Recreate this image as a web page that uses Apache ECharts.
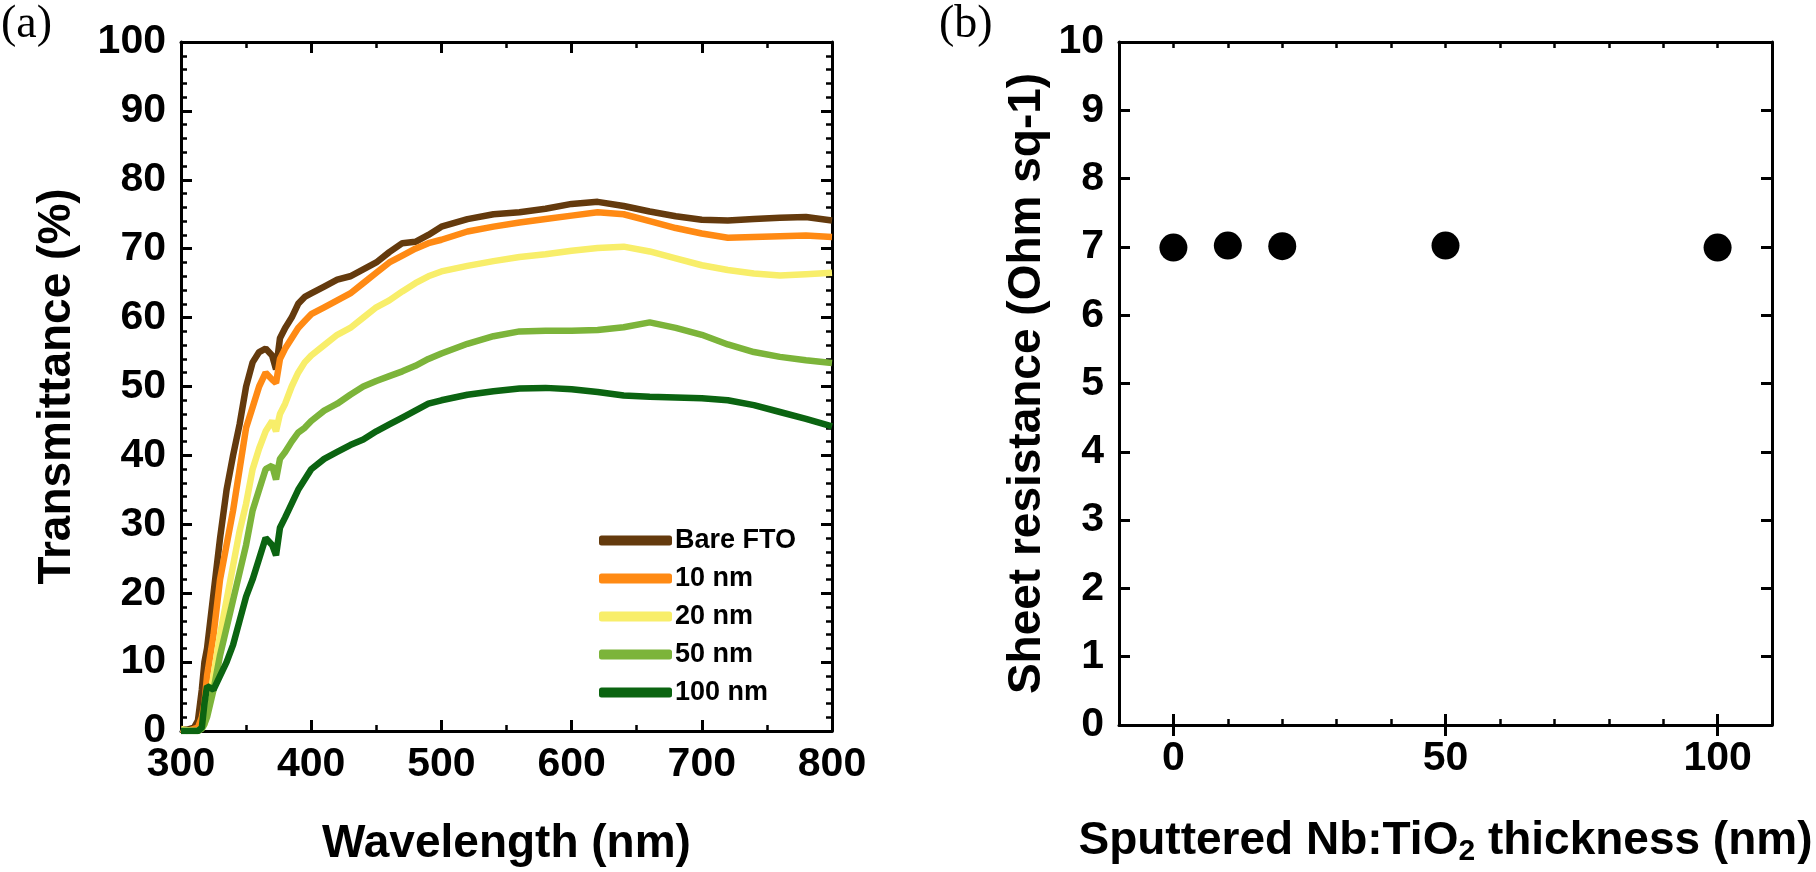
<!DOCTYPE html>
<html>
<head>
<meta charset="utf-8">
<title>FTO transmittance / sheet resistance</title>
<script src="https://cdn.jsdelivr.net/npm/echarts@6/dist/echarts.min.js"></script>
<style>
  html, body { margin: 0; padding: 0; background: #fff; }
  #main { width: 1816px; height: 872px; }
</style>
</head>
<body>
<div id="main"></div>
<script>
// (a) transmittance spectra
var wavelength = [300, 305, 310, 313, 316, 318, 320, 325, 330, 335, 340, 345, 350, 355, 360, 365, 370, 373, 376, 380,
  385, 390, 395, 400, 410, 420, 430, 440, 450, 460, 470, 480, 490, 500, 520, 540, 560, 580, 600, 620,
  640, 660, 680, 700, 720, 740, 760, 780, 800];
var bareFTO = [0.3, 0.2, 0.5, 1.5, 6, 10, 12, 20, 28, 35, 40, 44.5, 50, 53.5, 55, 55.5, 54.5, 52.5, 57, 58.5,
  60, 62, 63, 63.5, 64.5, 65.5, 66, 67, 68, 69.5, 70.8, 71, 72, 73.2, 74.3, 75, 75.3, 75.8, 76.5, 76.8,
  76.2, 75.4, 74.7, 74.2, 74.1, 74.3, 74.5, 74.6, 74.1];
var nm10 = [0.2, 0, 0.3, 0.5, 2, 4, 8, 14, 22, 27, 32, 38, 44, 47, 50, 52, 51, 50.5, 54, 55.5,
  57, 58.5, 59.5, 60.5, 61.5, 62.5, 63.5, 65, 66.5, 68, 69, 70, 70.8, 71.3, 72.5, 73.2, 73.8, 74.3, 74.8, 75.3,
  75, 74, 73, 72.2, 71.6, 71.7, 71.8, 71.9, 71.7];
var nm20 = [0.3, 0.1, 0, 0, 0.5, 1, 3, 8, 14, 19, 24, 29, 33, 38, 41, 43.5, 45, 43.5, 46, 47.5,
  50, 52, 53.5, 54.5, 56, 57.5, 58.5, 60, 61.5, 62.5, 63.8, 65, 66, 66.7, 67.5, 68.2, 68.8, 69.2, 69.7, 70.1,
  70.3, 69.6, 68.6, 67.6, 66.9, 66.4, 66.1, 66.3, 66.5];
var nm50 = [0, 0, 0, 0, 0.3, 1, 2, 6, 11, 15, 19, 23, 27, 32, 35, 38, 38.5, 36.5, 39.5, 40.5,
  42, 43.3, 44, 45, 46.5, 47.5, 48.8, 50, 50.8, 51.5, 52.2, 53, 54, 54.8, 56.2, 57.3, 58, 58.1, 58.1, 58.2,
  58.6, 59.3, 58.5, 57.5, 56.1, 55, 54.3, 53.8, 53.4];
var nm100 = [0, 0, 0, 0, 0.5, 4, 6.5, 6, 8, 10, 12.5, 16, 19.5, 22, 25, 28, 27, 25.5, 29.5, 31,
  33, 35, 36.5, 38, 39.5, 40.5, 41.5, 42.3, 43.5, 44.5, 45.5, 46.5, 47.5, 48, 48.8, 49.3, 49.7, 49.8, 49.6, 49.2,
  48.7, 48.5, 48.4, 48.3, 48, 47.3, 46.3, 45.3, 44.2];
var curveNames = ['Bare FTO', '10 nm', '20 nm', '50 nm', '100 nm'];
var curveColors = ['#643a0d', '#ff8a14', '#f8ee6a', '#7cb43a', '#0b6411'];

// (b) sheet resistance vs. Nb:TiO2 thickness
var thickness = [0, 10, 20, 50, 100];
var sheetResistance = [6.99, 7.02, 7.01, 7.02, 6.99];
var thicknessTicks = [0, 50, 100];

var SANS = "'Liberation Sans', Arial, sans-serif";
var SERIF = "'Liberation Serif', 'Times New Roman', serif";

function pairs(xs, ys) {
  return xs.map(function (x, i) { return [x, ys[i]]; });
}

var lineStyle = { color: '#000', width: 3 };
var tickLabel = { show: true, color: '#000', fontFamily: SANS, fontWeight: 'bold', fontSize: 41 };
var titleStyle = { color: '#000', fontFamily: SANS, fontWeight: 'bold', fontSize: 46 };

// one framed axis; extra keys override the defaults
function axis(o) {
  var a = {
    type: 'value',
    axisLine: { show: true, onZero: false, lineStyle: lineStyle },
    axisTick: { show: true, inside: true, length: 11, lineStyle: { color: '#000', width: 3 } },
    axisLabel: { show: false },
    splitLine: { show: false },
    minorSplitLine: { show: false }
  };
  for (var k in o) a[k] = o[k];
  return a;
}

function withMargin(m, extra) {
  var s = { margin: m };
  for (var k in tickLabel) s[k] = tickLabel[k];
  for (var j in extra || {}) s[j] = extra[j];
  return s;
}

var chart = echarts.init(document.getElementById('main'));
var series = [
  bareFTO, nm10, nm20, nm50, nm100
].map(function (ys, i) {
  return {
    name: curveNames[i],
    type: 'line',
    xAxisIndex: 0,
    yAxisIndex: 0,
    showSymbol: false,
    symbol: 'none',
    lineStyle: { width: 6.5, color: curveColors[i] },
    itemStyle: { color: curveColors[i] },
    data: pairs(wavelength, ys)
  };
});
series.push({
  type: 'scatter',
  xAxisIndex: 2,
  yAxisIndex: 2,
  symbolSize: 28,
  itemStyle: { color: '#000', opacity: 1 },
  data: pairs(thickness, sheetResistance)
});

var minorTick = { show: true, splitNumber: 2, length: 6, lineStyle: { color: '#000', width: 2.5 } };
var minorTickY = { show: true, splitNumber: 5, length: 6, lineStyle: { color: '#000', width: 2.5 } };
var smallTick = { show: true, inside: true, length: 6, lineStyle: { color: '#000', width: 2.5 } };
var bigTick = { show: true, inside: true, length: 11, customValues: thicknessTicks, lineStyle: { color: '#000', width: 3 } };
var panelStyle = { fontFamily: SERIF, fontWeight: 'normal', fontSize: 46, color: '#000' };

chart.setOption({
  animation: false,
  backgroundColor: '#fff',
  title: [
    { text: '(a)', left: 1, top: 2, padding: 0, textStyle: panelStyle },
    { text: '(b)', left: 939, top: 2, padding: 0, textStyle: panelStyle }
  ],
  grid: [
    { left: 181, top: 42, width: 651, height: 690 },
    { left: 1119, top: 42, width: 653, height: 690 }
  ],
  legend: {
    data: curveNames,
    orient: 'vertical',
    left: 594,
    top: 522,
    itemWidth: 73,
    itemHeight: 10,
    itemGap: 11,
    icon: 'roundRect',
    textStyle: { color: '#000', fontFamily: SANS, fontWeight: 'bold', fontSize: 27, padding: [0, 0, 0, -2] }
  },
  xAxis: [
    axis({
      gridIndex: 0, position: 'bottom', min: 300, max: 800, interval: 100,
      minorTick: minorTick,
      axisLabel: withMargin(13),
      name: 'Wavelength (nm)', nameLocation: 'middle', nameGap: 90,
      nameTextStyle: titleStyle
    }),
    axis({ gridIndex: 0, position: 'top', min: 300, max: 800, interval: 100, minorTick: minorTick }),
    axis({
      gridIndex: 1, position: 'bottom', min: -10, max: 110, interval: 10,
      axisTick: smallTick,
      name: 'Sputtered Nb:TiO{sub|2} thickness (nm)', nameLocation: 'middle', nameGap: 90,
      nameTextStyle: {
        color: '#000', fontFamily: SANS, fontWeight: 'bold', fontSize: 46,
        rich: { sub: { fontFamily: SANS, fontWeight: 'bold', fontSize: 30, color: '#000', padding: [22, 0, 0, 0] } }
      }
    }),
    axis({
      gridIndex: 1, position: 'bottom', min: -10, max: 110,
      axisLine: { show: false },
      axisTick: bigTick,
      axisLabel: withMargin(13, { customValues: thicknessTicks })
    }),
    axis({ gridIndex: 1, position: 'top', min: -10, max: 110, interval: 10, axisTick: smallTick }),
    axis({ gridIndex: 1, position: 'top', min: -10, max: 110, axisLine: { show: false }, axisTick: bigTick })
  ],
  yAxis: [
    axis({
      gridIndex: 0, position: 'left', min: 0, max: 100, interval: 10,
      minorTick: minorTickY,
      axisLabel: withMargin(15),
      name: 'Transmittance (%)', nameLocation: 'middle', nameGap: 101,
      nameTextStyle: titleStyle
    }),
    axis({ gridIndex: 0, position: 'right', min: 0, max: 100, interval: 10, minorTick: minorTickY }),
    axis({
      gridIndex: 1, position: 'left', min: 0, max: 10, interval: 1,
      axisLabel: withMargin(15),
      name: 'Sheet resistance (Ohm sq-1)', nameLocation: 'middle', nameGap: 69,
      nameTextStyle: titleStyle
    }),
    axis({ gridIndex: 1, position: 'right', min: 0, max: 10, interval: 1 })
  ],
  series: series
});
</script>
</body>
</html>
